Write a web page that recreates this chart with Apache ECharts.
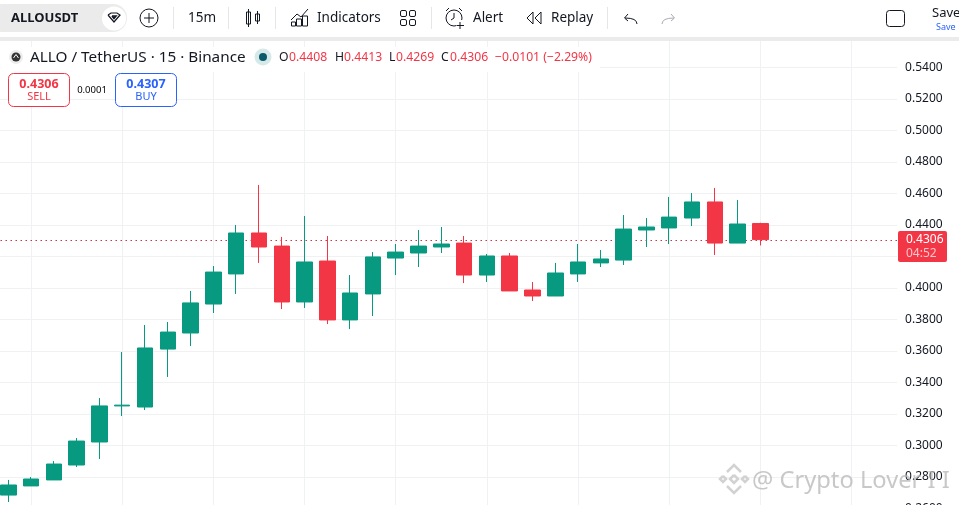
<!DOCTYPE html>
<html><head><meta charset="utf-8">
<style>html,body{margin:0;padding:0;background:#fff;overflow:hidden}#c{width:959px;height:505px}</style>
<script src="https://cdn.jsdelivr.net/npm/echarts@6/dist/echarts.min.js"></script>
</head><body><div id="c"></div>
<script>
// candles in order, left to right
const opens  = [.2684,.2742,.2780,.2875,.3021,.3250,.3243,.3611,.3713,.3897,.4088,.4348,.4265,.3910,.4170,.3796,.3961,.4189,.4221,.4259,.4284,.4081,.4202,.3986,.3948,.4088,.4158,.4176,.4367,.4380,.4443,.4545,.4284,.4408];
const closes = [.2748,.2786,.2881,.3027,.3250,.3255,.3618,.3719,.3904,.4100,.4348,.4259,.3910,.4164,.3796,.3967,.4196,.4227,.4265,.4278,.4081,.4202,.3980,.3948,.4094,.4164,.4183,.4373,.4386,.4449,.4545,.4284,.4405,.4306];
const lows   = [.2640,.2742,.2780,.2862,.2913,.3186,.3224,.3434,.3630,.3840,.3961,.4158,.3865,.3872,.3770,.3738,.3821,.4081,.4132,.4221,.4030,.4037,.3980,.3916,.3948,.4037,.4132,.4145,.4259,.4278,.4392,.4208,.4284,.4269];
const highs  = [.2780,.2799,.2900,.3046,.3300,.3592,.3764,.3783,.3980,.4138,.4399,.4653,.4323,.4456,.4329,.4081,.4227,.4278,.4367,.4386,.4329,.4215,.4221,.4037,.4158,.4278,.4240,.4462,.4443,.4577,.4602,.4634,.4557,.4413];
const lastPrice = 0.4306;
const sellPrice = '0.4306', buyPrice = '0.4307', spread = '0.0001', countdown = '04:52';
const legendTitle = 'ALLO / TetherUS · 15 · Binance';
const UP = '#089981', DOWN = '#F23645', BLUE = '#2962FF', INK = '#131722', GRID = '#F0F1F3', FONT = '"Noto Sans", sans-serif';

const slots = 41;
const categories = Array.from({length: slots}, (_, i) => String(i));
const candles = categories.map((_, i) => {
  const k = i - 1;
  return k >= 0 && k < opens.length ? [opens[k], closes[k], lows[k], highs[k]] : '-';
});

const Z = 100;
const text = (x, y, t, size, fill, extra) => ({type:'text', z:Z+2, x, y, style:Object.assign({text:t, fill, font:`${size}px ${FONT}`, verticalAlign:'middle', textVerticalAlign:'middle'}, extra||{})});
const line = (x1,y1,x2,y2,stroke,w) => ({type:'line', z:Z+2, shape:{x1,y1,x2,y2}, style:{stroke:stroke||INK, lineWidth:w||1, fill:null}});
const rect = (x,y,w,h,r,style,z) => ({type:'rect', z:z||Z+1, shape:{x,y,width:w,height:h,r}, style});
const circle = (cx,cy,r,style) => ({type:'circle', z:Z+2, shape:{cx,cy,r}, style});
const poly = (points,stroke,w) => ({type:'polyline', z:Z+2, shape:{points}, style:{stroke:stroke||INK, lineWidth:w||1, fill:null}});
const curve = (x1,y1,x2,y2,cpx1,cpy1,stroke) => ({type:'bezierCurve', z:Z+2, shape:{x1,y1,x2,y2,cpx1,cpy1}, style:{stroke,lineWidth:1,fill:null}});
const SEP = '#E4E6EA';
const WM = '#D2D2D2';
const wm = (points,w) => Object.assign(poly(points,WM,w||2.5),{z:Z+3});

const chrome = [
  // toolbar
  rect(0,0,959,37,0,{fill:'#fff'},Z),
  rect(0,37,959,4,0,{fill:'#EBEBEB'},Z),
  rect(-12,4,139,28,14,{fill:'#EBEBEB'}),
  circle(114,18.5,12,{fill:'#fff'}),
  poly([[108,15],[111,13],[117,13],[120,15],[114,22],[108,15]],INK,1.2),
  poly([[112,16],[114,18.5],[116,16],[112,16]],INK,1.6),
  text(11,18,'ALLOUSDT',13,INK,{font:`bold 13px ${FONT}`}),
  circle(149,18,9,{fill:'#fff',stroke:INK,lineWidth:1}),
  line(144,18,154,18), line(149,13,149,23),
  line(173.5,7,173.5,29,SEP),
  text(188,18,'15m',13.5,INK),
  line(228.5,7,228.5,29,SEP),
  rect(246.5,12,4,12,0,{fill:'#fff',stroke:INK,lineWidth:1},Z+2), line(248.5,9,248.5,27),
  rect(255.5,14,4,7,0,{fill:'#fff',stroke:INK,lineWidth:1},Z+2), line(257.5,11,257.5,24),
  line(275.5,7,275.5,29,SEP),
  poly([[291,20],[297,14],[301,17],[308,9]],INK,1),
  rect(291.5,22,4,4,0,{fill:'#fff',stroke:INK,lineWidth:1},Z+2),
  rect(296.5,19,5,7,0,{fill:'#fff',stroke:INK,lineWidth:1},Z+2),
  rect(302.5,16,5,10,0,{fill:'#fff',stroke:INK,lineWidth:1},Z+2),
  text(317,18,'Indicators',13.5,INK),
  rect(400.5,10.5,6,6,1.5,{fill:'#fff',stroke:INK,lineWidth:1},Z+2),
  rect(409.5,10.5,6,6,1.5,{fill:'#fff',stroke:INK,lineWidth:1},Z+2),
  rect(400.5,19.5,6,6,1.5,{fill:'#fff',stroke:INK,lineWidth:1},Z+2),
  rect(409.5,19.5,6,6,1.5,{fill:'#fff',stroke:INK,lineWidth:1},Z+2),
  line(431.5,7,431.5,29,SEP),
  circle(454,18,8,{fill:'#fff',stroke:INK,lineWidth:1}),
  poly([[454,13],[454,18],[451,20]],INK,1),
  line(446,11,449,8), line(459,8,462,11),
  rect(456,20,9,9,0,{fill:'#fff'},Z+2),
  line(460,22,460,29), line(456.5,25.5,464,25.5),
  text(473,18,'Alert',13.5,INK),
  poly([[533,12],[527,18],[533,24],[533,12]],INK,1),
  poly([[541,12],[535,18],[541,24],[541,12]],INK,1),
  text(551,18,'Replay',13.5,INK),
  line(607.5,7,607.5,29,SEP),
  poly([[628,14],[624.5,18],[628,21]],INK,1),
  curve(625,18,637,24,637,18,INK),
  poly([[671,14],[674.5,18],[671,21]],'#A8ABB3',1),
  curve(674,18,662,24,662,18,'#A8ABB3'),
  rect(886.5,10.5,18,16,3,{fill:'#fff',stroke:INK,lineWidth:1},Z+2),
  text(932,13,'Save',13,INK),
  text(936,27,'Save',9,BLUE),
  // legend band and legend
  rect(0,47,600,25,0,{fill:'#fff'},Z),
  circle(16,57,7,{fill:'#EDEDED'}),
  circle(16,57,4.5,{fill:'#333'}),
  poly([[13.5,58],[16,54.5],[18.5,58]],'#fff',1),
  text(30,57.5,legendTitle,15.3,INK),
  circle(263,57,8.5,{fill:'#D5EAE8'}),
  circle(263,57,4,{fill:'#0B5A6A'}),
  text(279,57.5,'O',12.2,INK), text(289,57.5,'0.4408',12.2,DOWN),
  text(335,57.5,'H',12.2,INK), text(344,57.5,'0.4413',12.2,DOWN),
  text(389,57.5,'L',12.2,INK), text(396,57.5,'0.4269',12.2,DOWN),
  text(441,57.5,'C',12.2,INK), text(450,57.5,'0.4306',12.2,DOWN),
  text(495,57.5,'−0.0101 (−2.29%)',12.2,DOWN),
  // buy and sell buttons
  rect(8.5,73.5,61,33,5,{fill:'#fff',stroke:DOWN,lineWidth:1}),
  text(39,84,sellPrice,12.5,DOWN,{font:`bold 12.5px ${FONT}`,align:'center',textAlign:'center'}),
  text(39,97,'SELL',11,DOWN,{align:'center',textAlign:'center'}),
  text(92,90.5,spread,9.5,'#000',{align:'center',textAlign:'center'}),
  rect(115.5,73.5,61,33,5,{fill:'#fff',stroke:BLUE,lineWidth:1}),
  text(146,84,buyPrice,12.5,BLUE,{font:`bold 12.5px ${FONT}`,align:'center',textAlign:'center'}),
  text(146,97,'BUY',11,BLUE,{align:'center',textAlign:'center'}),
  // last price tag
  rect(898,231,49,31,2,{fill:DOWN}),
  text(906,239.5,'0.4306',12,'#fff'),
  text(906,254,countdown,12,'#FBC6CB'),
  // watermark
  wm([[727,472],[734,465],[741,472]]),
  wm([[727,486],[734,493],[741,486]]),
  wm([[734,475],[738,479],[734,483],[730,479],[734,475]]),
  wm([[723,476],[726,479],[723,482],[720,479],[723,476]]),
  wm([[745,476],[748,479],[745,482],[742,479],[745,476]]),
  Object.assign(text(752,481,'@ Crypto Lover I I',23.7,'#B5B5B5',{opacity:.75}),{z:Z+3})
];

const chart = echarts.init(document.getElementById('c'), null, {renderer:'canvas'});
chart.setOption({
  animation:false,
  backgroundColor:'#fff',
  grid:{left:-14.49, right:61.9, top:35.8, bottom:-3.3, containLabel:false, outerBoundsMode:'none'},
  xAxis:{type:'category', data:categories, boundaryGap:false,
    axisLine:{show:false}, axisTick:{show:false}, axisLabel:{show:false},
    splitLine:{show:true, interval:i=>i%4===2, lineStyle:{color:GRID,width:1}}},
  yAxis:{type:'value', position:'right', min:0.26, max:0.56, interval:0.02, scale:true,
    axisLine:{show:false}, axisTick:{show:false},
    axisLabel:{margin:8, color:INK, fontSize:12, fontFamily:'"Noto Sans", sans-serif',
      formatter:v=>v>=0.559?'':v.toFixed(4)},
    splitLine:{show:true, lineStyle:{color:GRID,width:1}}},
  series:[{type:'candlestick', data:candles, barWidth:16, z:2, clip:true,
    itemStyle:{color:UP, color0:DOWN, borderColor:UP, borderColor0:DOWN, borderWidth:1, borderJoin:'miter', borderCap:'butt'},
    markLine:{silent:true, z:1, symbol:'none', label:{show:false},
      lineStyle:{color:'#C22F3C', type:[1.5,3.5], width:1.2, opacity:.95},
      data:[{yAxis:lastPrice}]}}],
  graphic:{elements:chrome}
});
</script></body></html>
